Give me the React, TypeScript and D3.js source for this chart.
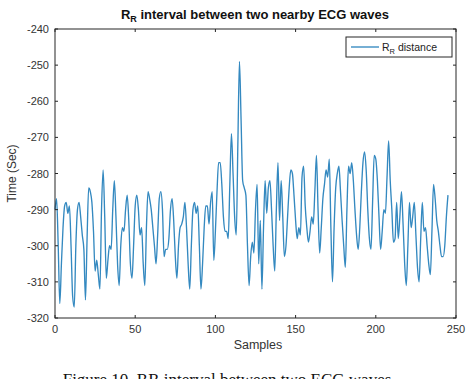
import React from "react";
import * as d3 from "d3";

const values: number[] = [
  -290, -287, -300, -316, -305, -295, -289, -288, -291, -289,
  -300, -314, -317, -300, -290, -288, -292, -297, -301, -315,
  -298, -284, -285, -288, -296, -307, -304, -308, -312, -290,
  -279, -292, -309, -304, -300, -301, -290, -282, -292, -305,
  -311, -300, -295, -296, -290, -286, -293, -305, -309, -300,
  -289, -286, -290, -297, -295, -305, -311, -295, -285, -287,
  -290, -295, -300, -305, -297, -287, -285, -290, -303, -301,
  -301, -298, -290, -287, -293, -303, -309, -300, -295, -294,
  -292, -288, -295, -305, -312, -300, -290, -288, -291, -289,
  -300, -312, -305, -295, -289, -289, -294, -288, -285, -304,
  -296, -285, -277, -277, -283, -292, -296, -296, -298, -283,
  -269, -280, -292, -297, -272, -249, -265, -282, -284, -286,
  -300, -311, -303, -299, -302, -290, -283, -305, -293, -312,
  -295, -282, -291, -284, -282, -290, -300, -307, -290, -277,
  -293, -282, -292, -303, -300, -292, -284, -279, -280, -286,
  -293, -298, -295, -297, -281, -278, -289, -295, -299, -296,
  -292, -294, -285, -275, -290, -302, -295, -287, -283, -279,
  -281, -276, -295, -310, -295, -284, -280, -278, -285, -293,
  -300, -306, -290, -278, -280, -277, -282, -290, -297, -301,
  -295, -285, -277, -274, -279, -290, -298, -301, -288, -275,
  -276, -282, -292, -301, -296, -290, -291, -281, -271, -282,
  -290, -299, -298, -288, -298, -292, -285, -294, -305, -311,
  -300, -288, -295, -292, -288, -297, -306, -310, -298, -288,
  -296, -295, -300, -305, -308, -296, -283, -287, -293, -296,
  -300, -303, -303, -300, -292, -286,
];

const xTicks = [0, 50, 100, 150, 200, 250];
const yTicks = [-240, -250, -260, -270, -280, -290, -300, -310, -320];

const W = 474;
const H = 379;
const L = 55, R = 456, T = 29, B = 318;

export default function App() {
  const x = d3.scaleLinear().domain([0, 250]).range([L, R]);
  const y = d3.scaleLinear().domain([-320, -240]).range([B, T]);
  const line = d3
    .line<number>()
    .x((_, i) => x(i))
    .y((d) => y(d))
    .curve(d3.curveMonotoneX);
  const axisColor = "#262626";
  const font = "Arial, 'Liberation Sans', sans-serif";
  return (
    <svg
      width={W}
      height={H}
      style={{ position: "absolute", left: 0, top: 0, background: "#fff" }}
    >
      <rect x={0} y={0} width={W} height={H} fill="#fff" />
      <path d={line(values) || ""} fill="none" stroke="#3489c0" strokeWidth={1.35} />
      <rect x={L} y={T} width={R - L} height={B - T} fill="none" stroke={axisColor} strokeWidth={1} />
      {xTicks.map((t) => (
        <g key={"x" + t}>
          <line x1={x(t)} x2={x(t)} y1={B} y2={B - 3} stroke={axisColor} />
          <line x1={x(t)} x2={x(t)} y1={T} y2={T + 3} stroke={axisColor} />
          <text x={x(t)} y={333} textAnchor="middle" fontFamily={font} fontSize={11} fill="#333">
            {t}
          </text>
        </g>
      ))}
      {yTicks.map((t) => (
        <g key={"y" + t}>
          <line x1={L} x2={L + 3} y1={y(t)} y2={y(t)} stroke={axisColor} />
          <line x1={R} x2={R - 3} y1={y(t)} y2={y(t)} stroke={axisColor} />
          <text x={49} y={y(t) + 4} textAnchor="end" fontFamily={font} fontSize={11} fill="#333">
            {t}
          </text>
        </g>
      ))}
      <text x={255} y={19} textAnchor="middle" fontFamily={font} fontSize={13} fontWeight="bold" fill="#111">
        R<tspan fontSize={9} dy={3}>R</tspan>
        <tspan dy={-3}> interval between two nearby ECG waves</tspan>
      </text>
      <text x={258} y={349} textAnchor="middle" fontFamily={font} fontSize={12.5} fill="#333">
        Samples
      </text>
      <text
        transform={`translate(16,${(T + B) / 2}) rotate(-90)`}
        textAnchor="middle"
        fontFamily={font}
        fontSize={12}
        fill="#333"
      >
        Time (Sec)
      </text>
      <rect x={346} y={37} width={106} height={20} fill="#fff" stroke={axisColor} strokeWidth={1} />
      <line x1={351} x2={379} y1={47} y2={47} stroke="#3489c0" strokeWidth={1.35} />
      <text x={382} y={51} fontFamily={font} fontSize={10.5} fill="#222">
        R<tspan fontSize={7.5} dy={3}>R</tspan>
        <tspan dy={-3}> distance</tspan>
      </text>
      <text x={227} y={385} textAnchor="middle" fontFamily="'Liberation Serif', 'Times New Roman', serif" fontSize={17} fill="#111">
        Figure 10.  RR interval between two ECG waves
      </text>
    </svg>
  );
}
